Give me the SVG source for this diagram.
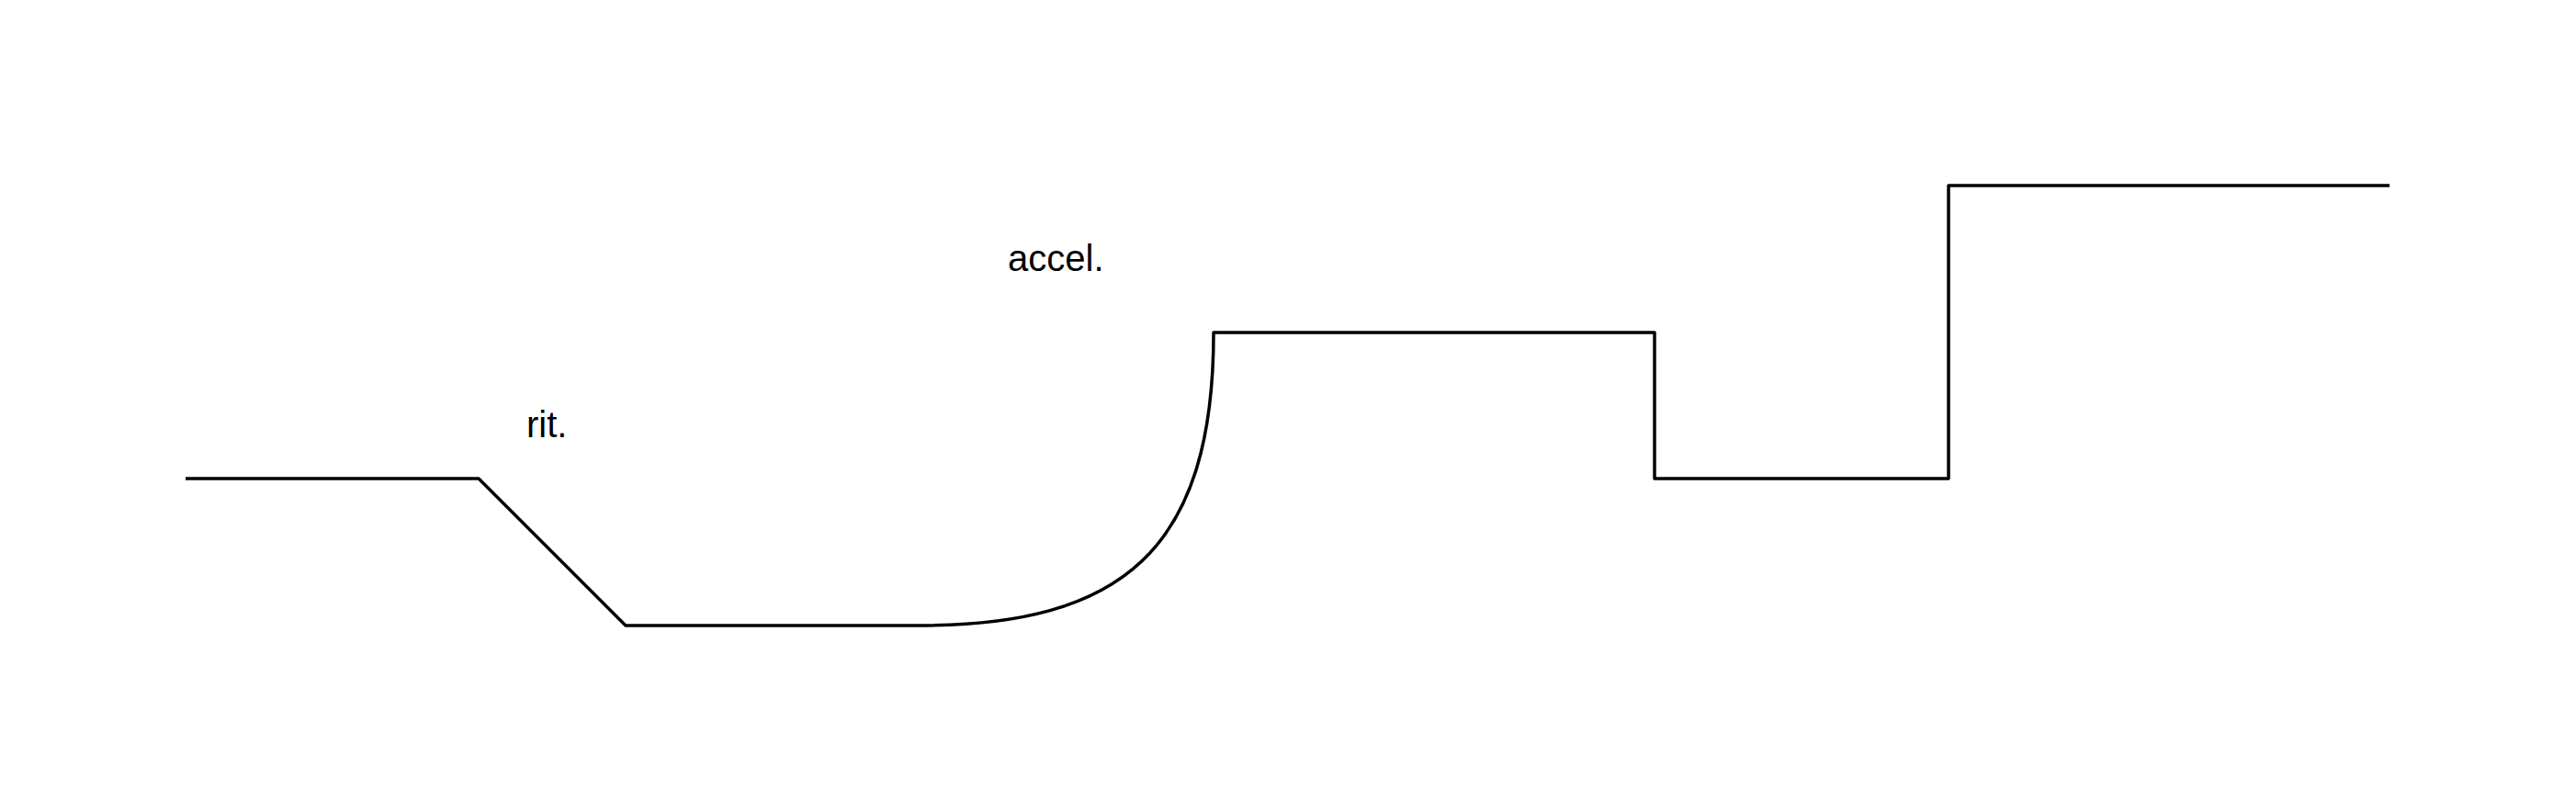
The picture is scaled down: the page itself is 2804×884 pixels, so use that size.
<svg xmlns="http://www.w3.org/2000/svg" width="2804" height="884" viewBox="0 0 2804 884">
<style>
.l{fill:none;stroke:#000;stroke-width:3.5;stroke-linejoin:round}
.t{font-family:"Liberation Sans",Arial,sans-serif;font-size:40px;fill:#000}
</style>
<rect width="2804" height="884" fill="#fff"/>
<g id="connectors">
<path class="l" d="M202,521 H521 L681,681 H1000 C1220,681 1321,600 1321,362 H1801 V521 H2121 V202 H2601"/>
</g>
<g id="labels">
<text class="t" x="573" y="476">rit.</text>
<text class="t" x="1097" y="295">accel.</text>
</g>
</svg>
